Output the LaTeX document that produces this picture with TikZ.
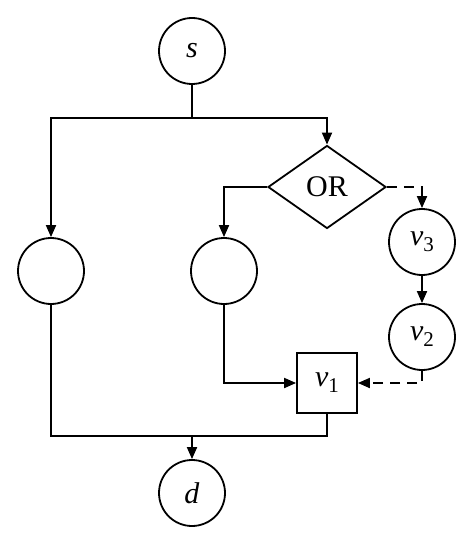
\documentclass[tikz,border=0pt]{standalone}
\usepackage{fontspec}
\setmainfont{Liberation Serif}
\usetikzlibrary{arrows.meta,shapes.geometric}
\newcommand{\vsub}[1]{\textit{v}\raisebox{-6pt}{\fontsize{21}{21}\selectfont #1}}
\begin{document}
\begin{tikzpicture}[x=1pt,y=-1pt,
  every node/.style={font=\fontsize{30}{32}\selectfont, inner sep=0pt},
  circ/.style={draw, circle, minimum size=66pt, line width=1.8pt},
  boxv/.style={draw, rectangle, minimum size=60pt, line width=1.8pt},
  dia/.style={draw, diamond, minimum width=118pt, minimum height=83pt, line width=1.8pt},
  conn/.style={line width=1.8pt},
  arr/.style={conn, -{Triangle[length=12pt,width=10pt]}},
  dsh/.style={dash pattern=on 10pt off 7pt}]
\useasboundingbox (0,0) rectangle (474,545);
\node[circ] (s) at (192,51) {\textit{s}};
\node[dia] (or) at (327,187) {OR};
\node[circ] (left) at (51,271) {};
\node[circ] (mid) at (224,271) {};
\node[circ] (v3) at (422,242) {\vsub{3}};
\node[circ] (v2) at (422,337) {\vsub{2}};
\node[boxv] (v1) at (327,383) {\vsub{1}};
\node[circ] (d) at (192,493) {\textit{d}};
\coordinate (j1) at (192,118);
\coordinate (j2) at (192,436);
\coordinate (j3) at (327,436);
\draw[conn] (s.south) -- (j1);
\draw[arr] (j1) -| (left.north);
\draw[arr] (j1) -| (or.north);
\draw[arr] (or.west) -| (mid.north);
\draw[arr,dsh] (or.east) -| (v3.north);
\draw[arr] (v3.south) -- (v2.north);
\draw[arr,dsh] (v2.south) |- (v1.east);
\draw[arr] (mid.south) |- (v1.west);
\draw[conn] (left.south) |- (j3) -- (v1.south);
\draw[arr] (j2) -- (d.north);
\end{tikzpicture}
\end{document}
